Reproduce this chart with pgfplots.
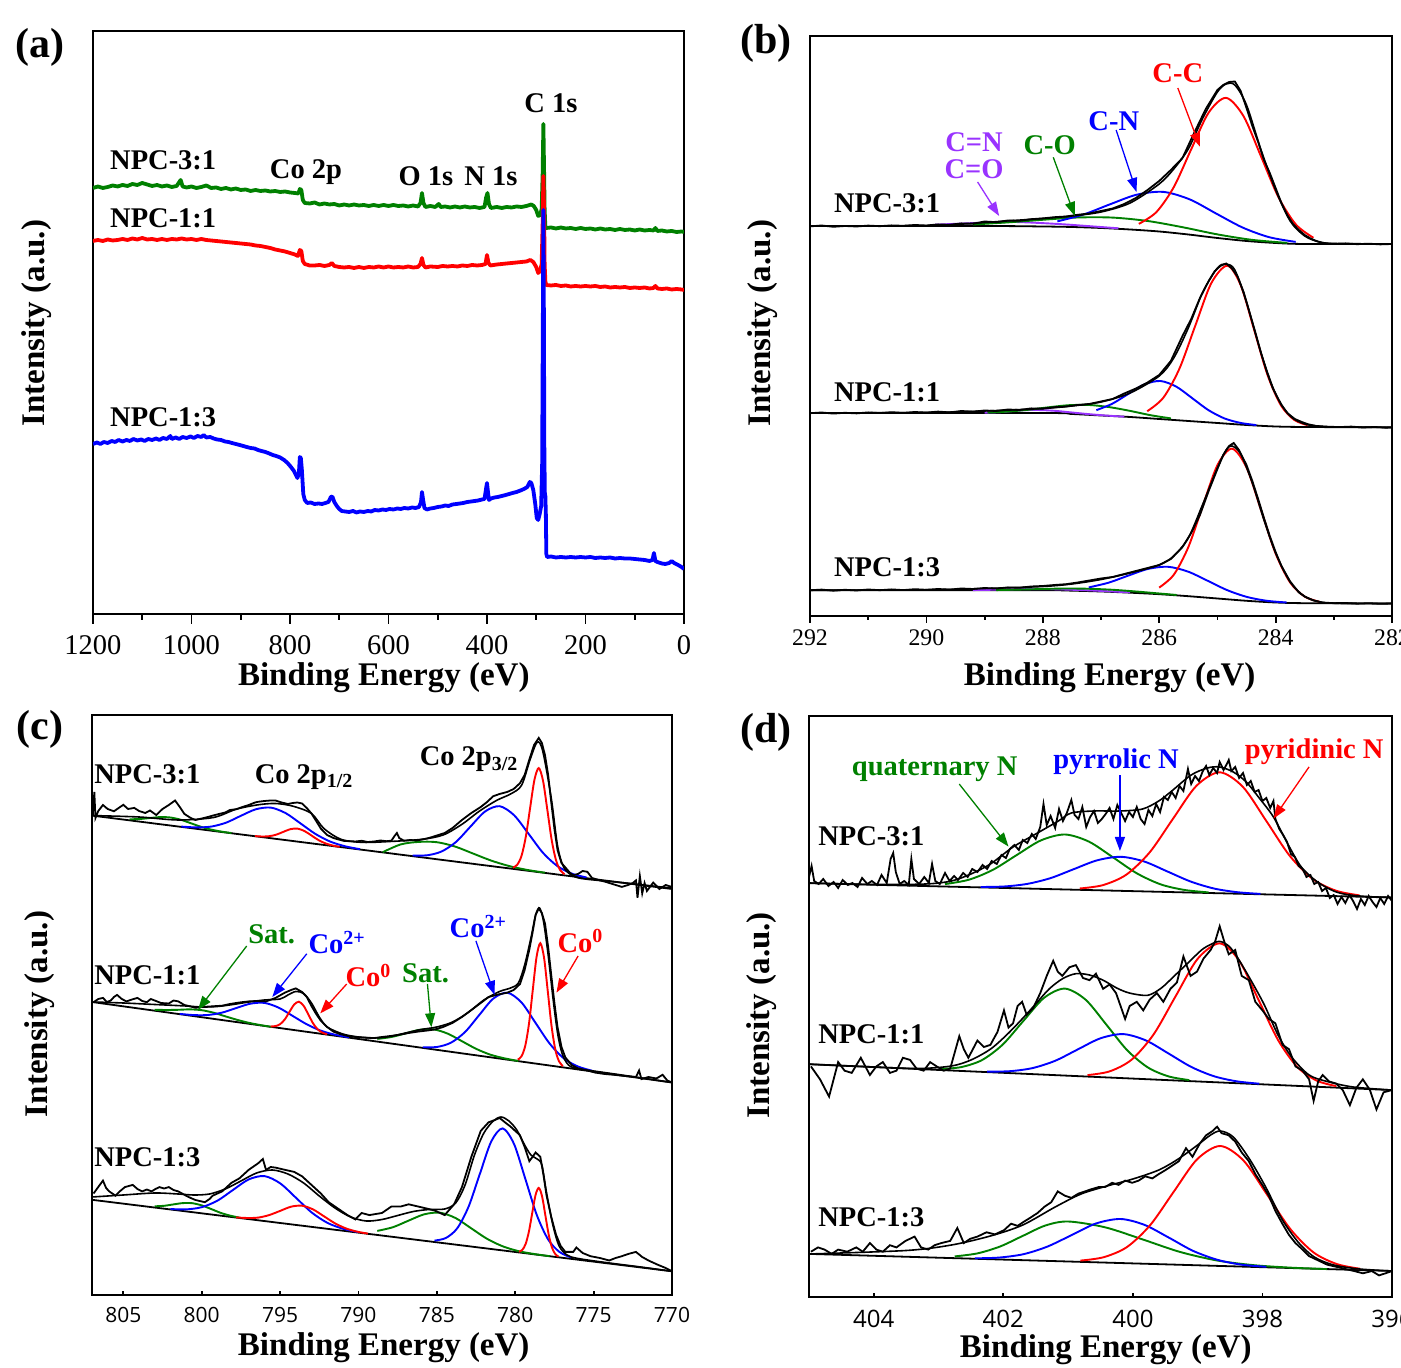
\documentclass[border=0pt]{standalone}
\usepackage{fontspec}
\setmainfont{Liberation Serif}
\newfontfamily\ticksans{Open Sans}
\usepackage{pgfplots}
\pgfplotsset{compat=1.18}
\usetikzlibrary{arrows.meta}

\definecolor{sgreen}{RGB}{0,128,0}
\definecolor{sred}{RGB}{255,0,0}
\definecolor{sblue}{RGB}{0,0,255}
\definecolor{sviolet}{RGB}{153,51,255}

\newcommand\labfont{\bfseries\fontsize{28.5}{30}\selectfont}

\pgfplotsset{
  xps/.style={
    scale only axis, anchor=south west, x dir=reverse, ymin=0,
    ytick=\empty, xtick pos=left,
    axis line style={line width=2.6pt},
    tick style={black, line width=1.8pt},
    /pgf/number format/assume math mode=true,
    /pgf/number format/1000 sep={},
    xlabel={Binding Energy (eV)},
    ylabel={Intensity (a.u.)},
    label style={font=\bfseries\fontsize{33}{36}\selectfont, anchor=center},
  },
}
\tikzset{
  lab/.style={font=\labfont, inner sep=0pt},
  arr/.style={line width=1.3pt, -{Triangle[length=14pt,width=10pt]}},
  raw/.style={black, line width=1.8pt},
  fit/.style={black, line width=1.6pt, smooth},
  comp/.style={line width=1.9pt, smooth},
  survey/.style={line width=3.8pt, line join=round},
}

\begin{document}
\begin{tikzpicture}[x=1pt,y=1pt]
\path[use as bounding box] (0,0) rectangle (1401,1368);

%% ---------------- (a) survey spectra ----------------
\begin{axis}[xps, at={(93pt,754pt)}, width=591pt, height=583pt,
  xmin=0, xmax=1200, ymax=583,
  xtick={0,200,...,1200}, minor xtick={100,300,...,1100},
  tick align=outside, major tick length=10pt, minor tick length=6pt,
  xticklabel style={font=\fontsize{28.5}{30}\selectfont, anchor=center, yshift=-21pt},
  xlabel style={at={(axis description cs:0.492,-0.1098)}},
  ylabel style={at={(axis description cs:-0.0948,0.499)}},
]
% NPC-3:1
\addplot[survey, sgreen] coordinates {
(1200,426)(1190,427.5)(1180,426)(1170,427)(1160,428.5)(1150,427.5)(1140,429)(1130,428)(1120,430)(1110,429)
(1100,431)(1090,429.5)(1080,428)(1070,429)(1060,427.5)(1050,428.5)(1040,427)(1030,428)(1022,434)(1018,427.5)
(1010,426.5)(1000,427.5)(990,426)(980,427)(970,428.5)(960,426)(950,426.5)(940,425)(930,426)(920,424.5)
(910,425.5)(900,424)(890,424.5)(880,423)(870,424)(860,423)(850,423.5)(840,422.5)(830,423)(820,422)
(810,422.5)(800,421.5)(790,421)(783,420.5)(780,425)(777,424)(774,414)(770,411)(760,410.5)(750,411.5)
(740,409.5)(730,410.5)(720,409.5)(710,410)(700,408.5)(690,409.5)(680,408.5)(670,409.5)(660,408.5)(650,409)
(640,408)(630,409)(620,408)(610,409)(600,408)(590,409)(580,408)(570,408.5)(560,407.5)(550,408.5)
(540,407.5)(535,411)(532,421)(529,411)(525,407)(515,408)(505,407)(498,410)(494,407)(485,407.5)
(475,406.5)(465,407.5)(455,406.5)(445,407.5)(435,406.5)(425,407)(415,406)(405,407)(402,416)(399,421)
(396,410)(392,406)(380,407)(370,406)(360,407)(350,406.5)(340,407.5)(330,407)(320,408)(310,409.5)
(305,408)(300,404)(296,398)(292,399)(289,405)(287,440)(285.5,490)(284,440)(283,405)(281.5,387)
(280,386)(270,386.5)(260,385.5)(250,386.5)(240,385.5)(230,386)(220,385)(210,386)(200,385)(190,385.5)
(180,384.5)(170,385.5)(160,384.5)(150,385)(140,384)(130,385)(120,384)(110,384.5)(100,383.5)(90,384.5)
(80,383.5)(70,384)(62,383.5)(58,386)(54,383)(45,383.5)(35,382.5)(25,383)(15,382)(5,382.5)(0,382)};
% NPC-1:1
\addplot[survey, sred] coordinates {
(1200,373)(1190,374)(1180,373)(1170,374.5)(1160,373.5)(1150,374)(1140,375)(1130,374)(1120,375.5)(1110,374.5)
(1100,376)(1090,374.5)(1080,375)(1070,374)(1060,375)(1050,374)(1040,375)(1030,374.5)(1020,375.5)(1010,374.5)
(1000,375)(990,374)(980,375)(970,374)(960,373.5)(950,373)(940,372.5)(930,372)(920,371.5)(910,371)
(900,370.5)(890,370)(880,369.5)(870,368.5)(860,368)(850,367)(840,366)(830,364.5)(820,363.5)(810,362.5)
(800,361)(790,359.5)(784,358)(780,364)(777,363)(774,353)(770,350)(760,348.5)(750,348.5)(740,349)
(730,348)(720,349)(715,351)(710,348)(700,347)(690,346.5)(680,347)(670,346)(660,347)(650,346)
(640,347)(630,346.5)(620,347.5)(610,346.5)(600,347.5)(590,346.5)(580,347)(570,346.5)(560,347.5)(550,346.5)
(540,347)(535,350)(532,356)(529,349)(525,346.5)(515,347.5)(500,347)(490,348)(480,347.5)(470,348)
(460,347.5)(450,348.5)(440,348)(430,349)(420,348.5)(410,349)(403,350)(400,359)(397,351)(393,348.5)
(380,349.5)(370,350)(360,350.5)(350,351)(340,351.5)(330,352)(320,352.5)(312,354)(306,352)(300,347)
(296,341)(292,343)(289,350)(287,390)(285.5,438)(284,400)(283,350)(281.5,333)(280,329)(270,328.5)
(260,329)(250,328)(240,328.5)(230,327.5)(220,328)(210,327.5)(200,328)(190,327.5)(180,328)(170,327)
(160,327.5)(150,326.5)(140,327)(130,326.5)(120,327)(110,326)(100,326.5)(90,326)(80,326.5)(70,325.5)
(62,326)(58,328)(54,325.5)(45,325)(35,325.5)(25,324.5)(15,325)(5,324.5)(0,324)};
% NPC-1:3
\addplot[survey, sblue] coordinates {
(1200,170)(1192,171.5)(1185,170)(1178,172)(1170,171)(1162,173)(1155,172)(1148,174)(1140,172.5)(1132,174)
(1125,173)(1118,175)(1110,173.5)(1102,174.5)(1095,173)(1088,175)(1080,174)(1072,175.5)(1065,174)(1058,176)
(1050,175)(1043,178)(1040,175)(1032,176.5)(1025,175)(1018,177)(1010,176)(1002,177.5)(995,176)(988,178)
(980,177)(975,179)(970,176.5)(962,177)(955,175.5)(948,174.5)(940,174)(932,172.5)(925,172)(918,171)
(910,170)(902,169)(895,168)(888,167)(880,166)(872,165.5)(865,164)(858,163)(850,162)(842,160.5)
(835,159)(828,158)(820,156.5)(812,154)(805,151)(798,147)(792,143)(788,139)(785,136)(782,140)
(780,157)(778,156)(776,145)(773,120)(770,114)(765,111)(758,111.5)(750,110)(742,110.5)(735,110)
(728,111)(722,112)(717,117)(714,117.5)(710,112)(705,108)(700,105)(695,103)(688,102.5)(680,102)
(672,103)(665,101.5)(658,102.5)(650,102)(642,103)(635,102.5)(628,104)(620,103.5)(612,104.5)(605,104)
(598,105)(590,104.5)(582,105.5)(575,105)(568,106)(560,105.5)(552,106.5)(545,106)(538,107)(534,112)
(532,122)(530,115)(527,106)(522,104.5)(515,105.5)(508,106)(500,107)(492,107.5)(485,108.5)(478,108)
(470,109.5)(462,110)(455,110.5)(448,111)(440,112)(432,112.5)(425,113)(418,113.5)(410,114.5)(405,115)
(402,125)(400,131)(398,122)(396,114)(392,115.5)(385,116.5)(378,117)(370,118)(362,119)(355,120)
(348,121)(340,122)(332,123.5)(325,125)(318,127)(313,132)(310,131)(306,124)(302,110)(299,96)
(296,94)(293,100)(290,108)(288,150)(286.5,300)(285.5,404)(284.5,300)(283.5,160)(282.5,120)(281.5,118)
(280.5,100)(279.5,60)(278,57)(270,57.5)(260,56.5)(250,57)(240,56.5)(230,57)(220,56.5)(210,57)
(200,56.5)(190,57)(180,56)(170,56.5)(160,56)(150,56.5)(140,55.5)(130,56)(120,55.5)(110,55.5)
(100,55)(90,54.5)(80,54)(70,53)(64,54)(61,61)(58,53)(54,52)(45,50.5)(38,50)
(30,51)(25,53)(20,51)(12,49)(5,47)(0,45)};
\node[lab, anchor=west] at (axis cs:1165.5,453.5) {NPC-3:1};
\node[lab, anchor=west] at (axis cs:1165.5,395.5) {NPC-1:1};
\node[lab, anchor=west] at (axis cs:1165.5,196.5) {NPC-1:3};
\node[lab] at (axis cs:767.5,442) {Co 2p};
\node[lab] at (axis cs:523.8,438) {O 1s};
\node[lab] at (axis cs:391.9,438) {N 1s};
\node[lab] at (axis cs:270,510.5) {C 1s};
\end{axis}

%% ---------------- (b) C 1s ----------------
\begin{axis}[xps, at={(810pt,752pt)}, width=582pt, height=580pt,
  xmin=282, xmax=292, ymax=580,
  xtick={282,284,...,292}, minor xtick={283,285,...,291},
  tick align=outside, major tick length=7pt, minor tick length=4pt,
  xticklabel style={font=\fontsize{23.8}{26}\selectfont, anchor=center, yshift=-15pt},
  xlabel style={at={(axis description cs:0.515,-0.1069)}},
  ylabel style={at={(axis description cs:-0.0808,0.505)}},
]
% backgrounds
\addplot[raw, smooth] coordinates {(292,390)(289,390)(288,389.5)(287.5,389)(287,388)(286.5,386.5)(286,384.5)(285.5,381.5)(285,378)(284.5,375)(284,373)(283.5,372)(282,372)};
\addplot[raw, smooth] coordinates {(292,203)(288,203)(287.5,202)(287,200.5)(286.5,199)(286,197)(285.5,195)(285,193)(284.5,191)(284,189.5)(283.5,189)(282,188.6)};
\addplot[raw, smooth] coordinates {(292,25.7)(288,25.7)(287.5,25.3)(287,24.5)(286.5,23.3)(286,21.8)(285.5,19.8)(285,17.5)(284.5,15.2)(284,13.5)(283.5,12.8)(282,12.5)};
% NPC-3:1 components
\addplot[comp, sviolet] coordinates {(289.85,391.3)(289.4,392.4)(288.95,393.5)(288.5,394)(288.05,393)(287.6,391.5)(287.15,389.6)(286.7,387.7)};
\addplot[comp, sgreen] coordinates {(289.2,391.5)(288.6,393.6)(288,396.2)(287.4,398.5)(286.8,398.4)(286.2,395)(285.6,388.8)(285,381.6)(284.4,376.1)(283.8,373.1)};
\addplot[comp, sblue] coordinates {(287.75,394.6)(287.295,401.6)(286.84,411.8)(286.385,421.3)(285.93,424.1)(285.475,416.6)(285.02,402.4)(284.565,388.4)(284.11,378.8)(283.655,374.1)};
\addplot[comp, sred] coordinates {(286.35,392.1)(286.05,403.8)(285.75,428.8)(285.45,466.7)(285.15,503.4)(284.85,518.1)(284.55,499.7)(284.25,459.5)(283.95,418.7)(283.65,391.4)(283.35,378.2)};
% NPC-1:1 components
\addplot[comp, sviolet] coordinates {(289,203.3)(288.7,204)(288.4,205.6)(288.1,206)(287.8,205.2)(287.5,203.5)(287.2,201.8)(286.9,200.4)(286.6,199.3)};
\addplot[comp, sgreen] coordinates {(288.95,203.4)(288.6,204.4)(288.25,206.2)(287.9,208.7)(287.55,210.8)(287.2,211)(286.85,208.8)(286.5,205.1)(286.15,200.8)(285.8,197.6)};
\addplot[comp, sblue] coordinates {(287.08,205.8)(286.805,212.3)(286.53,222.1)(286.255,231.6)(285.98,235)(285.705,229.3)(285.43,217.7)(285.155,205.9)(284.88,197.6)(284.605,193.1)(284.33,190.9)};
\addplot[comp, sred] coordinates {(286.205,204.8)(285.93,218.2)(285.655,247)(285.38,290.3)(285.105,332.8)(284.83,350.3)(284.6,330.8)(284.37,286.4)(284.14,241.2)(283.91,210.8)(283.68,196.1)(283.45,190.8)};
% NPC-1:3 components
\addplot[comp, sviolet] coordinates {(289.2,25.9)(288.8,26.3)(288.4,26.8)(288,26.9)(287.6,26.4)(287.2,25.6)(286.8,24.5)(286.5,23.6)};
\addplot[comp, sgreen] coordinates {(288.8,25.9)(288.4,26.4)(288,27)(287.6,27.5)(287.2,27.2)(286.8,26.2)(286.4,24.5)(286,22.5)(285.7,21)};
\addplot[comp, sblue] coordinates {(287.21,28.6)(286.87,33.3)(286.53,40.4)(286.19,47.1)(285.85,49.2)(285.51,44.5)(285.17,35.3)(284.83,25.8)(284.49,19)(284.15,15.2)(283.81,13.5)};
\addplot[comp, sred] coordinates {(286,28.4)(285.75,41.2)(285.5,68.8)(285.25,110.3)(285,150.8)(284.75,167.3)(284.5,148.5)(284.25,105.9)(284,62.5)(283.75,33.5)(283.5,19.4)(283.25,14.3)};
% measured spectra
\addplot[raw] coordinates {
(292,389.6)(291.8,390.5)(291.6,389.2)(291.4,390)(291.2,389.5)(291,390.4)(290.8,389.8)(290.6,390.6)(290.4,390.2)(290.2,391)
(290,390.5)(289.8,391.6)(289.6,391.2)(289.4,392.6)(289.2,392.2)(289,394.5)(288.8,393.8)(288.6,395.5)(288.4,395.2)(288.2,396.8)
(288,397.6)(287.8,398.8)(287.6,399.5)(287.4,401.2)(287.2,402.5)(287,405)(286.8,407.5)(286.6,412)(286.4,418)(286.2,426)
(286,435)(285.8,446)(285.6,458)(285.4,483)(285.2,507)(285,526)(284.9,531)(284.8,534)(284.7,534.5)(284.6,525)
(284.5,508)(284.4,490)(284.3,474)(284.2,456)(284.1,443)(284,428)(283.9,413)(283.8,401)(283.7,392)(283.6,386)
(283.5,381)(283.4,377.5)(283.3,375)(283.2,373.3)(283.1,372.5)(283,372.2)(282.8,372.6)(282.6,371.8)(282.4,372.3)(282.2,371.6)(282,372)};
\addplot[fit] coordinates {(292,389.8)(291,390)(290,390.4)(289.5,391.5)(289,393.5)(288.5,395.5)(288,397.5)(287.5,400)(287,404)(286.5,413)(286,432)(285.75,447)(285.5,467)(285.25,498)(285,524)(284.85,532)(284.7,531)(284.5,511)(284.25,466)(284,426)(283.75,395)(283.5,380)(283.25,374)(283,372.5)(282,372)};
\addplot[raw] coordinates {
(292,202.8)(291.8,203.5)(291.6,202.4)(291.4,203.2)(291.2,202.6)(291,203.6)(290.8,202.9)(290.6,203.8)(290.4,203.1)(290.2,204)
(290,203.4)(289.8,204.4)(289.6,203.6)(289.4,205)(289.2,204.3)(289,205.5)(288.8,205)(288.6,206.5)(288.4,206)(288.2,207.6)
(288,207.3)(287.8,208.8)(287.6,209.5)(287.4,211)(287.2,212)(287,214.5)(286.8,217)(286.6,222.5)(286.4,227.5)(286.2,233.5)
(286,241)(285.8,255)(285.6,280)(285.45,297)(285.3,318)(285.15,335)(285.05,344.5)(284.95,350)(284.85,352.5)(284.75,347.5)
(284.65,339)(284.55,324)(284.45,304)(284.35,284)(284.25,263)(284.15,244)(284.05,228)(283.9,211)(283.8,203)(283.67,197)
(283.55,194)(283.44,191.7)(283.3,190)(283.1,189.3)(282.9,188.9)(282.7,189.4)(282.5,188.5)(282.3,189)(282.1,188.3)(282,188.6)};
\addplot[fit] coordinates {(292,203)(290,203.5)(289,205)(288,207.5)(287.5,210)(287,214)(286.5,223)(286,240)(285.75,258)(285.5,288)(285.25,324)(285,348)(284.85,352)(284.7,346)(284.5,314)(284.25,263)(284,222)(283.75,200)(283.5,192)(283.25,189.8)(283,189)(282,188.6)};
\addplot[raw] coordinates {
(292,25.7)(291.8,26.4)(291.6,25.3)(291.4,26.2)(291.2,25.5)(291,26.5)(290.8,25.8)(290.6,26.6)(290.4,25.9)(290.2,26.8)
(290,26.2)(289.8,27)(289.6,26.4)(289.4,27.5)(289.2,27)(289,28)(288.8,27.4)(288.6,28.6)(288.4,28.2)(288.2,29.5)
(288,30)(287.8,31)(287.6,31.8)(287.4,33.5)(287.2,35.5)(287,37.5)(286.8,39)(286.6,42)(286.4,45)(286.2,48)
(286,51)(285.8,57)(285.6,69)(285.45,83)(285.3,101)(285.15,125)(285,147)(284.9,161)(284.8,170)(284.72,173)
(284.63,166)(284.5,151)(284.4,135)(284.3,117)(284.2,98)(284.1,80)(284,64)(283.9,50)(283.75,34.5)(283.6,23.5)
(283.5,19.5)(283.35,15.5)(283.2,13.5)(283,12.8)(282.8,13)(282.6,12.3)(282.4,12.8)(282.2,12.2)(282,12.5)};
\addplot[fit] coordinates {(292,25.7)(290,26.2)(289,27.5)(288,29.5)(287.5,32)(287,36.5)(286.5,43)(286,51)(285.75,60)(285.5,78)(285.25,112)(285,148)(284.85,166)(284.75,170)(284.6,162)(284.4,133)(284.2,96)(284,63)(283.75,34)(283.5,19.5)(283.25,14.3)(283,12.8)(282,12.5)};
% annotations
\node[lab, anchor=west] at (axis cs:291.59,413) {NPC-3:1};
\node[lab, anchor=west] at (axis cs:291.59,224) {NPC-1:1};
\node[lab, anchor=west] at (axis cs:291.59,49) {NPC-1:3};
\node[lab, sred] at (axis cs:285.68,543) {C-C};
\node[lab, sblue] at (axis cs:286.78,495) {C-N};
\node[lab, sgreen] at (axis cs:287.88,471) {C-O};
\node[lab, sviolet] at (axis cs:289.18,473.5) {C=N};
\node[lab, sviolet] at (axis cs:289.18,447) {C=O};
\draw[arr, sred] (axis cs:285.68,528) -- (axis cs:285.3,469.3);
\draw[arr, sblue] (axis cs:286.74,486) -- (axis cs:286.39,424);
\draw[arr, sgreen] (axis cs:287.82,458.7) -- (axis cs:287.45,400);
\draw[arr, sviolet] (axis cs:289.12,434) -- (axis cs:288.75,400);
\end{axis}

%% ---------------- (c) Co 2p ----------------
\begin{axis}[xps, at={(92pt,73pt)}, width=580pt, height=580pt,
  xmin=770, xmax=807, ymax=580,
  axis line style={line width=2.2pt},
  xtick={770,775,...,805},
  tick align=inside, major tick length=4pt,
  xticklabel style={font=\ticksans\fontsize{21}{24}\selectfont, anchor=center, yshift=-20pt},
  xlabel style={at={(axis description cs:0.503,-0.0914)}},
  ylabel style={at={(axis description cs:-0.0897,0.4845)}},
]
% linear backgrounds
\addplot[raw] coordinates {(807,479.4)(770,406)};
\addplot[raw] coordinates {(807,293)(770,212.5)};
\addplot[raw] coordinates {(807,95.2)(770,23.7)};
% NPC-3:1 components
\addplot[comp, sgreen] coordinates {(804.6,475.7)(803.95,476)(803.3,477)(802.65,477.9)(802,477.5)(801.35,475.3)(800.7,471.8)(800.05,468.2)(799.4,465.4)(798.75,463.4)(798.1,461.9)};
\addplot[comp, sgreen] coordinates {(788.45,442.8)(787.3,450.6)(786.15,453.1)(785,452.8)(783.85,448.5)(782.7,441.5)(781.55,434.5)(780.4,429)(779.25,425.1)(778.1,422.3)};
\addplot[comp, sblue] coordinates {(801.3,468.4)(800.35,467.6)(799.4,468.4)(798.45,472.3)(797.5,479.2)(796.55,485.7)(795.6,487.4)(794.65,481.9)(793.7,471.6)(792.75,461.1)(791.8,453.4)(790.85,448.7)(789.9,445.8)};
\addplot[comp, sblue] coordinates {(786.55,439.5)(785.625,439.7)(784.7,443.5)(783.775,453.1)(782.85,468.5)(781.925,483.5)(781,488.8)(780.075,479.8)(779.15,461.2)(778.225,442.1)(777.3,428.8)(776.375,421.3)(775.45,417.5)};
\addplot[comp, sred] coordinates {(796.6,458.9)(796.15,458.5)(795.7,458.8)(795.25,460.3)(794.8,463.1)(794.35,465.8)(793.9,466.4)(793.45,464)(793,459.5)(792.55,454.9)(792.1,451.6)(791.65,449.5)(791.2,448.1)};
\addplot[comp, sred] coordinates {(780.15,427.3)(779.875,430.2)(779.6,439.1)(779.325,458.3)(779.05,487.1)(778.775,515.2)(778.5,526.9)(778.225,514.1)(777.95,484.9)(777.675,455)(777.4,434.8)(777.125,424.7)(776.85,420.8)};
% NPC-1:1 components
\addplot[comp, sgreen] coordinates {(803,285.2)(802.25,285)(801.5,285.2)(800.75,285.6)(800,284.8)(799.25,282.3)(798.5,278.7)(797.75,275.2)(797,272.2)(796.25,269.9)(795.5,268)};
\addplot[comp, sgreen] coordinates {(788.8,256.1)(787.9,258)(787,261.6)(786.1,265.2)(785.2,265.6)(784.3,261.3)(783.4,253.8)(782.5,246.2)(781.6,240.4)(780.7,236.7)(779.8,234)};
\addplot[comp, sblue] coordinates {(801.4,281.1)(800.5,279.9)(799.6,280)(798.7,282.4)(797.8,286.9)(796.9,291.3)(796,292.1)(795.1,287.4)(794.2,279.1)(793.3,270.7)(792.4,264.3)(791.5,260.3)(790.6,257.6)};
\addplot[comp, sblue] coordinates {(785.9,247.8)(785,248)(784.1,252.3)(783.2,263)(782.3,279.9)(781.4,296.4)(780.5,302.3)(779.6,292.5)(778.7,272)(777.8,251.3)(776.9,236.6)(776,228.5)(775.1,224.3)};
\addplot[comp, sred] coordinates {(795.6,268.5)(795.3,268.9)(795,270.8)(794.7,275.6)(794.4,283.2)(794.1,290.5)(793.8,293.3)(793.5,289.2)(793.2,280.6)(792.9,271.7)(792.6,265.6)(792.3,262.3)(792,260.7)};
\addplot[comp, sred] coordinates {(779.84,235.3)(779.6,238.7)(779.36,249.3)(779.12,271.6)(778.88,305.2)(778.64,338.1)(778.4,351.8)(778.16,337.1)(777.92,303.1)(777.68,268.5)(777.44,245.1)(777.2,233.5)(776.96,228.9)};
% NPC-1:3 components
\addplot[comp, sgreen] coordinates {(803,88.7)(802.4,89.2)(801.8,90.6)(801.2,91.9)(800.6,91.8)(800,89.6)(799.4,86)(798.8,82.2)(798.2,79.4)(797.6,77.4)};
\addplot[comp, sgreen] coordinates {(788.8,64.1)(787.8,67.8)(786.8,74.4)(785.8,80.7)(784.8,82.3)(783.8,76.9)(782.8,66.6)(781.8,56.2)(780.8,48.7)(779.8,43.9)(778.8,41)(777.8,38.8)};
\addplot[comp, sblue] coordinates {(802,86)(801,85.6)(800,87.8)(799,94.3)(798,105.1)(797,115.6)(796,118.9)(795,111.7)(794,97.4)(793,82.7)(792,72.3)(791,66.3)(790,62.8)};
\addplot[comp, sblue] coordinates {(785.15,54.4)(784.425,57)(783.7,66.7)(782.975,88.4)(782.25,121.4)(781.525,153.7)(780.8,166.6)(780.075,150.9)(779.35,115.8)(778.625,80)(777.9,55.5)(777.175,43)(776.45,37.6)};
\addplot[comp, sred] coordinates {(797.8,77.6)(797.1,77)(796.4,77.4)(795.7,79.9)(795,84.1)(794.3,88.3)(793.6,89.3)(792.9,85.6)(792.2,78.7)(791.5,71.7)(790.8,66.6)(790.1,63.4)(789.4,61.4)};
\addplot[comp, sred] coordinates {(779.76,43.3)(779.55,45.1)(779.34,50.9)(779.13,63.2)(778.92,81.6)(778.71,99.6)(778.5,107.1)(778.29,98.8)(778.08,79.9)(777.87,60.7)(777.66,47.6)(777.45,41)(777.24,38.4)};
% measured spectra and envelopes
\addplot[raw] coordinates {
(806.95,479)(806.85,503)(806.78,477)(806.6,484)(806.3,490)(806,486)(805.6,483.7)(805.3,487)(805,490.2)(804.7,486)
(804.3,487.1)(804,484)(803.6,482)(803.3,484.5)(802.9,480)(802.5,486)(802.1,490)(801.7,494.5)(801.4,488)(801.1,481)
(800.7,477)(800.4,475)(800,476.5)(799.6,478)(799.3,479.4)(798.9,481)(798.5,482.5)(798.2,485)(797.8,485.8)(797.4,488)
(797,490)(796.6,492.5)(796.4,493.2)(796,494)(795.6,494.5)(795.3,494.5)(794.9,492.5)(794.5,491)(794.2,492)(793.9,492.5)
(793.6,491.5)(793.3,487)(793,481.5)(792.7,474)(792.4,466.4)(792,460)(791.6,457)(791.3,455.6)(790.9,454)(790.5,453.8)
(790.2,453.5)(789.8,454.2)(789.4,453)(789,453.5)(788.6,454.5)(788.2,453.8)(787.9,454.3)(787.7,459)(787.55,462)(787.4,457)
(787.1,454.3)(786.7,455)(786.3,454.5)(785.9,455.6)(785.5,457)(785.1,459)(784.5,462)(784,467)(783.4,475)(782.8,482)
(782.2,488)(781.8,493)(781.4,498.8)(781,501)(780.5,503.1)(780.1,506)(779.7,511.8)(779.4,520)(779.1,535.5)(778.8,550)
(778.5,557.1)(778.3,552)(778.1,539.8)(777.9,520)(777.7,492.3)(777.5,466)(777.3,444.8)(777.05,432)(776.8,427.5)(776.5,422)
(776.3,419.8)(776,421)(775.7,424)(775.4,423.2)(775.1,417)(774.6,414.6)(774.2,413)(773.8,411)(773.2,408.1)(772.8,410)
(772.5,412)(772.3,414.6)(772.2,397.3)(772.05,418.9)(771.9,401.6)(771.75,412)(771.6,404)(771.2,412.4)(770.8,406)(770.4,410)(770,408)};
\addplot[fit] coordinates {(806.9,479.4)(804,478)(801.5,475)(799.25,477.5)(797.8,485.8)(796.4,490.2)(795.3,491.5)(794.2,488.9)(793,481.5)(792.2,466.4)(791.1,455.6)(789.7,452.6)(788,453.5)(786,455.6)(784.6,460)(783.4,470.7)(782.3,483.7)(781.2,494.5)(780.3,501)(779.6,509.6)(779.05,535.5)(778.6,552.8)(778.25,544.2)(777.7,496.6)(777.3,449.1)(776.9,427.5)(776.3,418.9)(775.5,415.9)(773.2,412.4)(770,406.8)};
\addplot[raw] coordinates {
(806.9,292.8)(806.6,296)(806.3,297.1)(806.05,293)(805.8,294.5)(805.6,298)(805.4,300.1)(805.1,296)(804.8,293.6)(804.45,295.5)
(804.1,297.1)(803.8,294)(803.5,292.8)(803.25,296)(803,294.5)(802.6,292)(802.1,291.5)(801.8,294.5)(801.5,293.6)(801.1,290)
(800.7,288.5)(800.4,287.2)(800,288)(799.5,288.5)(798.7,289.3)(798.2,291)(797.6,292.5)(797,293.6)(796.5,294)(795.9,293.6)
(795.3,297)(794.7,302.3)(794.3,305)(794,306.6)(793.6,303)(793.3,298)(793,289)(792.7,281)(792.4,274.2)(792,268)
(791.6,263.4)(791.2,261)(790.7,259.1)(790.2,258)(789.7,257.5)(789,256.9)(788.5,258)(787.9,259.1)(787.3,260.5)(786.8,262)
(786.2,263.4)(785.6,264.5)(785.1,265.6)(784.6,268)(784,272.1)(783.4,278)(782.8,285)(782.2,292)(781.7,298)(781.1,300.5)
(780.5,302.3)(780.1,305)(779.7,310.9)(779.4,325)(779.1,345.5)(778.9,362)(778.7,380)(778.5,386.5)(778.3,382)(778.1,371.4)
(777.9,348)(777.7,319.6)(777.5,292)(777.3,267.7)(777.05,248)(776.8,237.5)(776.4,230)(776,226.7)(775.5,225)(774.9,222.4)
(774.3,221)(773.7,220.2)(773,219)(772.3,218)(772.1,224.5)(771.95,215.9)(771.5,218)(771,216.5)(770.6,220.2)(770.3,214.5)(770,212.5)};
\addplot[fit] coordinates {(806.9,293)(805,292)(803,290.5)(801,289)(800,288)(799,288.5)(798,290.5)(797,293)(796,295)(795,296)(794.5,300)(794,303.5)(793.5,301.5)(793,292)(792.5,278)(792,268)(791,261)(790,258)(789,257)(788,258.5)(787,262)(786,265.5)(785,268)(784,273)(783,282.5)(782,295)(781,303.5)(780.3,307)(779.8,312)(779.4,330)(779,357)(778.7,380)(778.45,387)(778.2,374)(777.9,340)(777.6,298)(777.3,262)(777,241)(776.6,230)(776,226)(775,224)(773,219.5)(770,212.5)};
\addplot[raw] coordinates {
(806.9,101.5)(806.6,108)(806.3,114.4)(806.1,107)(805.9,103.6)(805.5,99.3)(805.2,104)(804.9,107.9)(804.4,110.1)(804.1,106)
(803.8,103.6)(803.5,105.5)(803.2,103.6)(802.95,106)(802.7,107.9)(802.4,106.5)(802.1,107.9)(801.8,105)(801.5,103.6)(801,99.3)
(800.7,97)(800.4,95)(799.8,92.8)(799.5,96)(799.3,99.3)(798.7,103.6)(798.1,112.2)(797.6,116.6)(797,125.2)(796.4,131.7)
(796.1,136)(795.9,125.2)(795.6,128)(795.3,127.4)(794.7,125.2)(794.1,123.1)(793.6,118.7)(793,110.1)(792.4,101.5)(791.9,92.8)
(791.3,86.3)(790.7,79.9)(790.2,75.6)(789.8,82)(789.3,79.9)(788.9,81)(788.5,82)(787.9,88.5)(787.3,88.5)(786.8,90.7)
(786.2,88.5)(785.6,86.3)(785.1,84.2)(784.5,79.9)(783.9,90.7)(783.4,107.9)(782.8,138.2)(782.2,164.1)(781.7,172.7)(781.3,175)
(781,177)(780.6,172)(780.3,168.4)(779.7,159.8)(779.4,148)(779.1,133.8)(778.9,138)(778.7,142.5)(778.4,138.2)(778.2,120)
(778,99.3)(777.7,78)(777.4,60.4)(777.1,49)(776.8,43.1)(776.3,43.1)(776.1,47.5)(775.7,42)(775.2,38.8)(774.6,37)
(774,34.5)(773.6,37)(773.2,38.8)(772.8,41)(772.3,43.1)(771.9,38)(771.5,34.5)(770.9,30.2)(770.4,27)(770,23.7)};
\addplot[fit] coordinates {(807,98)(805,100)(803,102)(801.5,101)(800.5,100)(799.5,101)(798.5,106)(797.5,114)(796.5,122)(795.5,125)(794.5,121)(793.5,112)(792.5,99)(791.5,87)(790.5,78)(789.5,74)(788.5,75.5)(787.5,79.5)(786.5,83.5)(785.5,85.5)(784.5,86)(783.8,92)(783.2,110)(782.6,140)(782,162)(781.4,174)(780.9,178)(780.4,174)(779.9,165)(779.4,150)(779,140)(778.6,136)(778.3,130)(778,102)(777.6,70)(777.2,49)(776.7,40)(776,36.5)(774,32)(772,28)(770,23.7)};
% annotations
\node[lab, anchor=west] at (axis cs:806.86,520.4) {NPC-3:1};
\node[lab, anchor=west] at (axis cs:806.86,319.6) {NPC-1:1};
\node[lab, anchor=west] at (axis cs:806.86,138.2) {NPC-1:3};
\node[lab, anchor=west] at (axis cs:796.63,518.2) {Co 2p\textsubscript{1/2}};
\node[lab, anchor=west] at (axis cs:786.1,535.5) {Co 2p\textsubscript{3/2}};
\node[lab, sgreen] at (axis cs:795.54,360.6) {Sat.};
\node[lab, sblue] at (axis cs:791.37,352.8) {Co\textsuperscript{2+}};
\node[lab, sred] at (axis cs:789.38,319.6) {Co\textsuperscript{0}};
\node[lab, sgreen] at (axis cs:785.72,322) {Sat.};
\node[lab, sblue] at (axis cs:782.37,368) {Co\textsuperscript{2+}};
\node[lab, sred] at (axis cs:775.85,354) {Co\textsuperscript{0}};
\draw[arr, sgreen] (axis cs:797.13,349) -- (axis cs:800.24,285);
\draw[arr, sblue] (axis cs:793.3,341.2) -- (axis cs:795.5,298);
\draw[arr, sred] (axis cs:790.75,311) -- (axis cs:792.44,281.6);
\draw[arr, sgreen] (axis cs:785.6,311) -- (axis cs:785.35,267.7);
\draw[arr, sblue] (axis cs:782.51,354.1) -- (axis cs:781.32,300.1);
\draw[arr, sred] (axis cs:775.99,339) -- (axis cs:777.37,302.3);
\end{axis}

%% ---------------- (d) N 1s ----------------
\begin{axis}[xps, at={(809pt,71pt)}, width=583pt, height=581pt,
  xmin=396, xmax=405, ymax=581,
  xtick={396,398,...,404},
  tick align=inside, major tick length=4pt,
  xticklabel style={font=\ticksans\fontsize{24}{26}\selectfont, anchor=center, yshift=-22pt},
  xlabel style={at={(axis description cs:0.509,-0.0912)}},
  ylabel style={at={(axis description cs:-0.0806,0.485)}},
]
% linear backgrounds
\addplot[raw] coordinates {(405,413.8)(396,399.5)};
\addplot[raw] coordinates {(405,232.8)(396,206.9)};
\addplot[raw] coordinates {(405,43.1)(396,26)};
% NPC-3:1 components
\addplot[comp, sgreen] coordinates {(402.9,412.9)(402.53,417.3)(402.16,427.2)(401.79,442.1)(401.42,456.6)(401.05,462.5)(400.68,455.4)(400.31,439.8)(399.94,423.7)(399.57,412.6)(399.2,407)(398.83,404.6)};
\addplot[comp, sblue] coordinates {(402.35,410)(401.99,410.5)(401.63,413.1)(401.27,418.9)(400.91,427.9)(400.55,436.7)(400.19,440.2)(399.83,435.6)(399.47,425.6)(399.11,415.5)(398.75,408.5)(398.39,404.8)(398.03,403.1)};
\addplot[comp, sred] coordinates {(400.82,408.5)(400.46,411.9)(400.1,422.4)(399.74,444.7)(399.38,478.3)(399.02,511.1)(398.66,524.7)(398.3,510)(397.94,476)(397.58,441.3)(397.22,417.8)(396.86,406.2)(396.5,401.6)};
% NPC-1:1 components
\addplot[comp, sgreen] coordinates {(402.97,228)(402.65,229.9)(402.33,236.9)(402.01,252.4)(401.69,276.1)(401.37,299.2)(401.05,308.4)(400.73,297.3)(400.41,272.4)(400.09,246.9)(399.77,229.6)(399.45,220.6)(399.13,216.9)};
\addplot[comp, sblue] coordinates {(402.25,225.4)(401.9,225.8)(401.55,228.9)(401.2,236.2)(400.85,247.6)(400.5,258.7)(400.15,262.9)(399.8,256.6)(399.45,243.5)(399.1,230.1)(398.75,220.8)(398.4,215.7)(398.05,213.3)};
\addplot[comp, sred] coordinates {(400.7,221.9)(400.36,225.6)(400.02,237.3)(399.68,262.6)(399.34,300.8)(399,338.2)(398.66,353.6)(398.36,336.4)(398.06,297.1)(397.76,257.1)(397.46,229.9)(397.16,216.3)(396.86,210.9)};
% NPC-1:3 components
\addplot[comp, sgreen] coordinates {(402.75,40.6)(402.4,43.6)(402.05,50.5)(401.7,61.1)(401.35,71.5)(401,75.5)(400.43,69.7)(399.85,57.6)(399.28,45.2)(398.7,36.5)(398.13,31.8)(397.55,29.3)(397,27.9)};
\addplot[comp, sblue] coordinates {(402.44,38.7)(402.07,39.4)(401.69,42.8)(401.32,50.4)(400.94,62.1)(400.57,73.5)(400.19,78)(399.82,72.1)(399.44,59.2)(399.07,46.1)(398.69,37.1)(398.32,32.3)(397.94,30.2)};
\addplot[comp, sred] coordinates {(400.81,36.4)(400.45,39.8)(400.09,50)(399.73,72.1)(399.37,105.2)(399.01,137.6)(398.65,151)(398.29,136.3)(397.93,102.5)(397.57,68)(397.21,44.5)(396.85,32.9)(396.49,28.2)};
% measured spectra and envelopes
\addplot[raw] coordinates {
(405,420)(404.96,431)(404.92,416)(404.85,413)(404.78,418)(404.7,411)(404.62,415)(404.55,409)(404.48,417)(404.4,412)
(404.33,414)(404.25,410)(404.18,419)(404.1,413)(404.03,416)(403.95,412)(403.88,422)(403.8,414)(403.74,438)(403.7,444)
(403.66,425)(403.6,413)(403.53,416)(403.46,412)(403.42,438)(403.38,418)(403.3,413)(403.22,420)(403.15,414)(403.1,433)
(403.05,416)(402.98,413)(402.9,424)(402.83,416)(402.76,421)(402.7,417)(402.62,424)(402.55,420)(402.48,428)(402.4,425)
(402.32,432)(402.25,428)(402.18,436)(402.1,433)(402.03,442)(401.96,439)(401.9,448)(401.83,452)(401.76,447)(401.7,457)
(401.63,454)(401.56,463)(401.5,458)(401.43,470)(401.38,493)(401.33,472)(401.27,481)(401.2,469)(401.14,488)(401.08,476)
(401.02,484)(400.95,497)(400.9,482)(400.84,478)(400.78,490)(400.72,470)(400.66,480)(400.6,486)(400.54,474)(400.48,478)
(400.42,483)(400.36,489)(400.3,478)(400.24,492)(400.18,484)(400.12,476)(400.06,485)(400,480)(399.94,490)(399.88,478)
(399.82,473)(399.76,487)(399.7,481)(399.64,493)(399.58,485)(399.52,500)(399.46,497)(399.4,505)(399.34,499)(399.28,511)
(399.22,506)(399.15,528)(399.1,513)(399.04,521)(398.98,516)(398.92,526)(398.87,531)(398.82,522)(398.76,529)(398.7,524)
(398.66,535)(398.6,527)(398.55,533)(398.52,537)(398.48,526)(398.42,530)(398.36,519)(398.3,524)(398.24,512)(398.18,516)
(398.12,505)(398.06,507)(398,496)(397.94,499)(397.88,489)(397.83,496)(397.8,478)(397.74,468)(397.68,462)(397.62,455)
(397.56,443)(397.5,440)(397.44,431)(397.38,428)(397.32,420)(397.26,422)(397.2,413)(397.14,415)(397.08,406)(397.02,409)
(396.96,399)(396.9,402)(396.84,393)(396.78,400)(396.72,394)(396.66,402)(396.6,396)(396.54,388)(396.48,398)(396.42,392)
(396.36,401)(396.3,395)(396.24,390)(396.18,399)(396.12,393)(396.06,401)(396,396)};
\addplot[fit] coordinates {(405,414)(404,412.5)(403.2,413)(402.8,416)(402.5,423)(402.2,433)(401.85,450)(401.5,463)(401.15,476)(400.95,484)(400.6,486)(400.2,486)(399.85,488)(399.6,496)(399.4,506)(399.1,522)(398.85,529)(398.66,530)(398.45,525)(398.25,515)(398.05,499)(397.83,480)(397.6,452)(397.4,430)(397.15,415)(396.9,406)(396.7,402.5)(396.4,400.5)(396,399.5)};
\addplot[raw] coordinates {
(404.97,230.6)(404.83,217.7)(404.69,200.4)(404.55,234.9)(404.45,226.3)(404.34,224.1)(404.2,239.2)(404.06,222)(403.96,230.6)(403.86,234.9)
(403.75,224.1)(403.65,226.3)(403.55,239.2)(403.44,237.1)(403.34,228.4)(403.23,226.3)(403.13,234.9)(403.03,230.6)(402.92,226.3)(402.82,228.4)
(402.68,260.8)(402.61,247.8)(402.54,239.2)(402.4,256.5)(402.3,250)(402.2,252.1)(402.09,265.1)(401.99,286.6)(401.92,269.4)(401.85,273.7)
(401.78,291)(401.71,295.2)(401.64,282.3)(401.54,288.8)(401.43,303.9)(401.33,321.1)(401.23,336.2)(401.16,325.4)(401.09,321.1)(400.98,329.7)
(400.88,331.9)(400.77,319)(400.67,316.8)(400.57,323.3)(400.46,308.2)(400.36,312.5)(400.26,303.9)(400.19,291)(400.12,278)(400.05,291)
(399.94,295.2)(399.84,286.6)(399.74,297.4)(399.63,303.9)(399.53,295.2)(399.42,308.2)(399.32,314.6)(399.22,340.5)(399.11,321.1)(399.01,325.4)
(398.91,338.4)(398.8,347)(398.73,355.6)(398.66,370.7)(398.59,355.6)(398.52,342.7)(398.42,347)(398.32,321.1)(398.21,316.8)(398.11,295.2)
(398,286.6)(397.9,278)(397.8,273.7)(397.69,252.1)(397.59,247.8)(397.49,230.6)(397.38,226.3)(397.28,217.7)(397.21,196.1)(397.14,215.5)
(397.07,222)(396.97,215.5)(396.86,213.4)(396.76,206.9)(396.65,191.8)(396.55,209.1)(396.45,217.7)(396.34,206.9)(396.24,187.5)(396.13,204.7)(396,206.9)};
\addplot[fit] coordinates {(405,232.8)(404,230)(403.3,228.5)(402.8,231)(402.5,237)(402.2,247.8)(401.95,262)(401.71,278)(401.5,293)(401.29,308.2)(401.08,318.5)(400.88,323.3)(400.67,322)(400.46,316.8)(400.25,309)(400.05,303.9)(399.77,301.7)(399.56,309)(399.36,321.1)(399.15,334)(398.94,347)(398.8,352.5)(398.66,355.6)(398.52,351)(398.39,340)(398.18,317)(397.97,292)(397.76,262)(397.55,240)(397.28,222)(397,215.5)(396.6,210)(396,206.9)};
\addplot[raw] coordinates {
(404.97,45.3)(404.86,49.6)(404.76,47.4)(404.65,43.1)(404.55,47.4)(404.41,45.3)(404.27,49.6)(404.17,45.3)(404.06,53.9)(403.96,47.4)
(403.86,45.3)(403.75,51.8)(403.65,49.6)(403.51,56.1)(403.37,60.4)(403.27,49.6)(403.16,47.4)(403.06,51.8)(402.96,53.9)(402.82,56.1)
(402.71,69)(402.61,53.9)(402.51,58.2)(402.4,60.4)(402.26,64.7)(402.13,62.6)(401.99,66.8)(401.88,73.3)(401.78,71.1)(401.68,75.4)
(401.57,79.8)(401.47,84.1)(401.36,90.5)(401.26,94.8)(401.16,105.6)(401.05,101.3)(400.95,99.1)(400.84,103.4)(400.74,105.6)(400.64,107.8)
(400.53,109.9)(400.43,109.9)(400.32,114.2)(400.22,112.1)(400.12,116.4)(400.01,114.2)(399.91,116.4)(399.81,120.7)(399.7,118.6)(399.6,122.9)
(399.49,127.2)(399.39,131.5)(399.29,135.8)(399.18,148.8)(399.08,140.2)(398.97,153.1)(398.87,161.7)(398.77,166)(398.7,170.3)(398.63,163.8)
(398.52,161.7)(398.42,155.3)(398.32,144.5)(398.21,135.8)(398.11,122.9)(398,112)(397.9,101)(397.8,86)(397.69,73)(397.59,62)
(397.49,53.9)(397.38,47.4)(397.28,40.9)(397.14,36.6)(397,32.3)(396.86,30.2)(396.72,28)(396.58,25.9)(396.45,23.7)(396.31,25.9)
(396.2,21.6)(396.1,23.7)(396,25.9)};
\addplot[fit] coordinates {(405,43)(403.5,46.5)(402.8,52)(402.2,61)(401.7,72)(401.2,90)(400.8,103)(400.4,111)(400,118)(399.6,127)(399.3,138)(399,152)(398.8,162)(398.65,166)(398.45,160)(398.2,138)(397.95,110)(397.7,78)(397.45,55)(397.2,40)(396.9,32)(396.5,28)(396,26)};
% annotations
\node[lab, anchor=west] at (axis cs:404.86,461.2) {NPC-3:1};
\node[lab, anchor=west] at (axis cs:404.86,263) {NPC-1:1};
\node[lab, anchor=west] at (axis cs:404.86,80) {NPC-1:3};
\node[lab, sgreen] at (axis cs:403.06,528) {quaternary N};
\node[lab, sblue] at (axis cs:400.26,535.7) {pyrrolic N};
\node[lab, sred] at (axis cs:397.2,545.2) {pyridinic N};
\draw[arr, sgreen] (axis cs:402.68,512.9) -- (axis cs:401.92,450.4);
\draw[arr, sblue] (axis cs:400.2,521.5) -- (axis cs:400.2,446);
\draw[arr, sred] (axis cs:397.28,530.1) -- (axis cs:397.83,478.4);
\end{axis}

%% panel letters
\node[font=\bfseries\fontsize{42}{46}\selectfont] at (40pt,1321pt) {(a)};
\node[font=\bfseries\fontsize{42}{46}\selectfont] at (766pt,1324.5pt) {(b)};
\node[font=\bfseries\fontsize{42}{46}\selectfont] at (40pt,639pt) {(c)};
\node[font=\bfseries\fontsize{42}{46}\selectfont] at (766pt,635.6pt) {(d)};
\end{tikzpicture}
\end{document}
